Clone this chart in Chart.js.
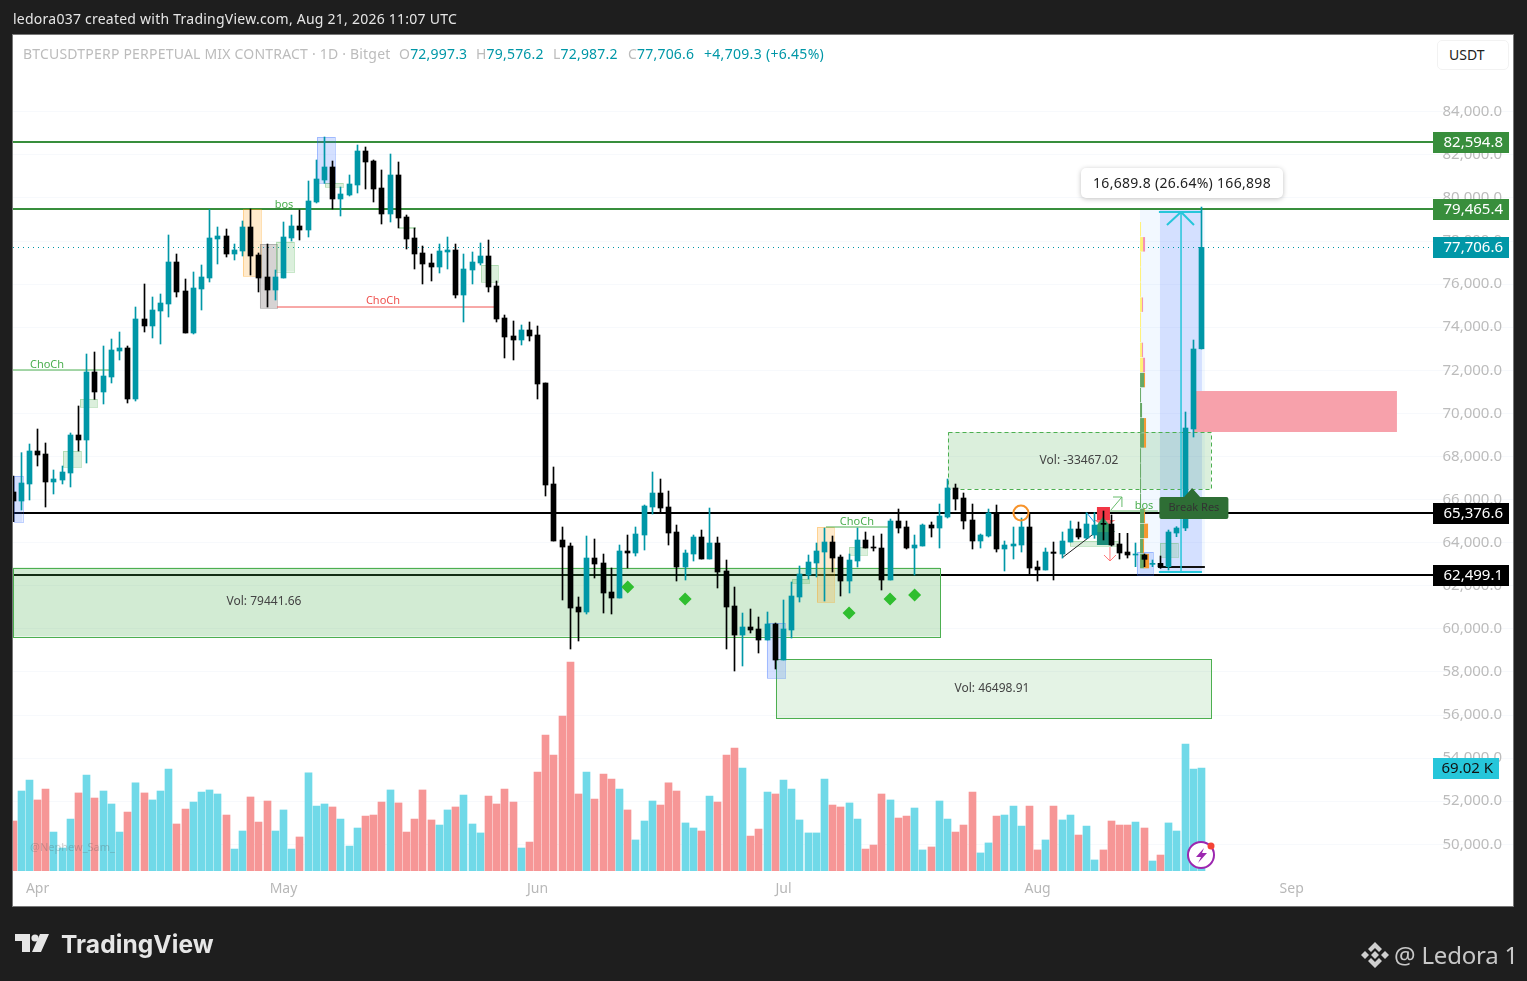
<!DOCTYPE html>
<html>
<head>
  <title>BTCUSDT daily chart</title>
  <script src="https://cdnjs.cloudflare.com/ajax/libs/Chart.js/4.4.1/chart.umd.min.js"></script>
  <style>
    html, body { margin: 0; padding: 0; background: #1e1e1e; width: 1527px; height: 981px; overflow: hidden; }
    body { position: relative; font-family: "Noto Sans", sans-serif; }
    #panel { position: absolute; left: 12px; top: 34px; width: 1500px; height: 871px; background: #fff; border: 1px solid #777; }
    #wrap { position: absolute; left: 0; top: 0; width: 1527px; height: 981px; }
    .t { position: absolute; white-space: nowrap; line-height: 18px; }
    .grey { color: #bcbcbc; }
    .teal { color: #0097a7; }
    #measure { position: absolute; left: 1081px; top: 168px; width: 202px; height: 30px; line-height: 30px; text-align: center; background: #fff;
      border-radius: 5px; box-shadow: 0 1px 5px rgba(0,0,0,.25); color: #222; font-size: 14px; letter-spacing: .3px; }
    #unit { position: absolute; left: 1437px; top: 40px; width: 72px; height: 30px; line-height: 28px; padding-left: 11px; background: #fff;
      border: 1px solid #f2f2f2; border-radius: 5px; box-sizing: border-box; color: #222; font-size: 14px; }
  </style>
</head>
<body>
  <div id="panel"></div>
  <div id="wrap"><canvas id="chart" width="1527" height="981"></canvas></div>

  <div class="t" style="left:13px;top:10px;color:#e6e6e6;font-size:14px;letter-spacing:.24px">ledora037 created with TradingView.com, Aug 21, 2026 11:07 UTC</div>
  <div class="t grey" style="left:23px;top:45px;font-size:14px;letter-spacing:.2px">BTCUSDTPERP PERPETUAL MIX CONTRACT · 1D · Bitget</div>
  <div class="t grey" style="left:399px;top:45px;font-size:14px;letter-spacing:.2px">O<span class="teal">72,997.3</span></div>
  <div class="t grey" style="left:476px;top:45px;font-size:14px;letter-spacing:.2px">H<span class="teal">79,576.2</span></div>
  <div class="t grey" style="left:553px;top:45px;font-size:14px;letter-spacing:.2px">L<span class="teal">72,987.2</span></div>
  <div class="t grey" style="left:628px;top:45px;font-size:14px;letter-spacing:.2px">C<span class="teal">77,706.6</span></div>
  <div class="t teal" style="left:704px;top:45px;font-size:14px;letter-spacing:.3px">+4,709.3 (+6.45%)</div>
  <div id="unit">USDT</div>
  <div id="measure">16,689.8 (26.64%) 166,898</div>
  <div class="t" style="left:30px;top:838px;font-size:11px;color:rgba(90,90,90,.3)">@Nephew_Sam_</div>

  <svg style="position:absolute;left:1186px;top:839px" width="32" height="32" viewBox="0 0 32 32">
    <circle cx="15" cy="16" r="13" fill="#fff" stroke="#9c27b0" stroke-width="2"/>
    <path d="M18 9 L10 18 H15 L12 24 L21 14 H16 Z" fill="#9c27b0"/>
    <circle cx="25" cy="7" r="3.5" fill="#f44336"/>
  </svg>

  <svg style="position:absolute;left:15px;top:933px" width="38" height="20" viewBox="0 0 38 20">
    <path d="M0 1 H15 V19 H7 V8 H0 Z M25 1 H34 L26 19 H17 Z" fill="#e6e6e6"/>
    <circle cx="20" cy="5" r="3.6" fill="#e6e6e6"/>
  </svg>
  <div class="t" style="left:61px;top:926px;font-family:Inter,sans-serif;font-weight:700;font-size:24.5px;line-height:36px;color:#e6e6e6;letter-spacing:.1px">TradingView</div>

  <svg style="position:absolute;left:1361px;top:941px" width="28" height="28" viewBox="0 0 28 28">
    <g fill="#cfcfcf">
      <polygon points="14,1 21,8 18,11 14,7 10,11 7,8"/>
      <polygon points="14,27 21,20 18,17 14,21 10,17 7,20"/>
      <polygon points="4,10 8,14 4,18 0,14"/>
      <polygon points="24,10 28,14 24,18 20,14"/>
      <polygon points="14,10 18,14 14,18 10,14"/>
    </g>
  </svg>
  <div class="t" style="left:1394px;top:937px;font-size:24px;line-height:36px;color:#c8c8c8;letter-spacing:-.2px">@ Ledora 1</div>

  <script>
    // 数据 - prices, one entry per day from Mar 29
    var highs = [
      67094,68177,68579,69275,68626,67373,67558,69090,70343,72756,
      72849,73127,73452,73777,73127,74937,76005,75402,75541,78279,
      77397,76237,76562,76887,79470,78650,78557,77861,78929,79486,
      77444,77861,76655,78882,79207,79439,80785,81760,82827,81713,
      80507,81064,82456,82363,81760,81296,82038,81667,79207,78604,
      77768,77397,77861,78186,77861,77397,77490,77908,78047,76144,
      74566,74288,74102,74241,74056,71410,67512,64727,63984,61478,
      64309,64170,63473,62824,63891,64355,64727,65748,67279,66954,
      66397,64819,63659,64355,64587,65608,64262,63195,61942,60735,
      60921,60550,60782,60271,61339,62174,62917,63427,63984,64680,
      64309,63427,63474,64680,64495,64309,64402,65098,65562,65005,
      64355,64866,64959,65794,66954,66722,66305,65794,64402,65562,
      65748,64077,64727,65144,65376,63149,63752,64030,64495,65005,
      64959,65392,65392,65469,65284,64433,64433,63984,63474,63195,
      63381,64587,64742,70064,73405,79576.2
    ];
    var lows = [
      64975,65516,65980,67558,65655,66259,66723,66584,68254,67697,
      70652,70436,71410,72478,70482,70575,73777,73499,73220,74473,
      75402,73731,73684,74798,76098,76933,77258,77119,77304,76423,
      75634,74937,75262,76283,78000,78047,78186,79764,80677,79486,
      79161,80089,80228,80414,79810,78789,78882,78604,77629,76701,
      76005,76144,76515,76701,75355,74241,76005,76887,75634,74241,
      72571,72478,73174,73359,70668,66166,64077,61339,59065,59436,
      60689,62360,60735,60689,61431,62824,63381,63659,65330,65376,
      63891,62220,62267,63149,63241,63241,61896,59065,58043,58276,
      59807,58879,59482,58136,58554,59575,61246,62314,62406,61292,
      62638,61524,61664,62870,63752,63613,61803,62267,64448,63706,
      62499,63845,64263,63752,65144,65516,64634,63706,63752,64263,
      63566,62685,63242,63566,62499,62220,62731,62267,63288,64030,
      64170,64170,64200,64124,63845,63242,63288,62886,62886,62886,
      62808,62731,64278,64556,68903,72987.2
    ];
    var opens = [
      66352,65934,66723,68254,68115,66816,66908,67233,68997,68765,
      71921,70993,71689,72895,73035,70668,74381,74056,74752,75077,
      77026,75680,73731,75773,76283,78093,78233,77397,77536,78650,
      77351,76330,75726,76283,78140,78697,78511,79810,80831,81435,
      79950,80135,80599,82177,81713,80460,79254,81064,79114,78140,
      77444,76979,76794,77490,77583,75494,76655,76979,77304,75912,
      74427,73592,73406,73870,73638,71410,66723,64123,63845,61014,
      60782,63288,63056,61710,61431,63613,63520,64355,65655,66304,
      65655,64494,62870,63473,64262,63241,63984,62684,61060,59714,
      60086,59993,59482,60225,58554,59946,61478,62499,63056,63566,
      64030,63334,62220,63149,64123,63798,63752,62267,65005,64727,
      63752,63845,64819,64680,65191,66537,66073,65051,64077,64309,
      65376,63706,63845,63891,64727,62870,62731,63566,63474,64030,
      64634,64216,64355,64897,64866,63938,63566,63427,63427,62994,
      63040,62886,64448,64680,69275,72997.3
    ];
    var closes = [
      65934,66769,68254,68069,66816,66955,67280,68997,68765,71921,
      70993,71735,72942,73035,70668,74381,74056,74798,75123,77026,
      75634,73731,75819,76330,78140,78233,77397,77583,78650,77304,
      76283,75726,76330,78186,78697,78511,79857,80878,81435,79950,
      80182,80646,82177,81667,80414,79254,81064,79068,78093,77397,
      76933,76794,77536,77583,75494,76701,77026,77304,75866,74381,
      73545,73406,73870,73592,71364,66676,64077,63798,60967,60782,
      63288,63009,61663,61431,63613,63520,64402,65701,66304,65608,
      64448,62870,63520,64262,63241,63984,62638,61014,59714,60086,
      59946,59482,60225,58554,59993,61524,62545,63102,63613,64030,
      63288,62220,63195,64123,63752,63752,62267,65005,64680,63752,
      63891,64819,64680,65237,66537,66026,65005,64077,64355,65376,
      63706,63891,63938,64727,62824,62731,63566,63504,64077,64634,
      64263,64866,64819,64850,63891,63520,63427,63474,63226,63040,
      62886,64495,64680,69321,72988,77706.6
    ];
    // volume in thousands
    var volumes = [
      33.5,53.6,61.0,47.6,54.9,26.1,15.4,34.8,52.3,64.3,
      48.9,53.6,44.9,26.1,39.5,59.0,52.3,47.6,53.6,68.3,
      31.5,41.5,46.2,52.9,54.3,51.6,37.5,14.7,26.8,49.6,
      32.8,46.9,26.8,40.9,14.7,22.8,65.7,43.5,44.9,42.9,
      34.8,16.7,28.8,36.8,37.5,46.2,54.3,45.6,26.1,34.8,
      54.3,34.2,30.8,40.9,42.9,50.9,31.5,25.5,50.2,44.9,
      54.9,46.2,15.4,19.4,66.3,91.1,77.7,103.8,140.0,51.6,
      66.3,48.2,65.0,61.6,54.9,40.9,20.8,33.5,46.9,44.2,
      59.0,53.6,32.2,28.8,26.8,50.2,46.2,77.7,82.4,69.0,
      23.4,28.1,52.9,51.6,61.0,54.9,34.2,25.5,25.5,61.6,
      44.2,42.9,45.6,34.8,14.7,17.4,51.6,47.6,35.5,36.8,
      42.2,14.1,16.1,46.9,34.8,26.1,30.8,52.9,12.1,18.8,
      36.8,37.5,43.5,30.1,43.5,14.1,20.8,43.5,34.2,37.5,
      24.1,30.1,7.4,14.1,33.5,30.8,30.8,32.8,28.8,6.7,
      10.7,32.2,26.8,85.1,68.3,69.02
    ];
    var priceTicks = [84000,82000,80000,78000,76000,74000,72000,70000,68000,66000,64000,62000,60000,58000,56000,54000,52000,50000];
    var diamondDays = [75, 82, 102, 107, 110];
    var diamondPrices = [61943, 61386, 60736, 61386, 61571];
    var levelPrices = [82594.8, 79465.4, 65376.6, 62499.1];
    var profileBuy = [1,3,1,1,1,2,1,1,2,3,4,1,2,4,4,1,1,1,1,4,4,3,4];
    var profileSell = [0,2,0,0,0,1,0,0,1,2,1,0,0,2,2,0,0,0,0,1,4,1,5];

    // 横轴 - days from Mar 29 2026
    var monthNames = ['Jan','Feb','Mar','Apr','May','Jun','Jul','Aug','Sep'];
    var dayLabels = [];
    for (var d = 0; d < 184; d++) {
      dayLabels.push(new Date(Date.UTC(2026, 2, 29 + d)).toISOString().slice(0, 10));
    }

    // drawn objects, all in day index / price
    var BLUE = { fill: 'rgba(41,98,255,.2)', line: 'rgba(41,98,255,.3)' };
    var GREEN = { fill: 'rgba(76,175,80,.2)', line: 'rgba(76,175,80,.3)' };
    var ORANGE = { fill: 'rgba(255,152,0,.2)', line: 'rgba(255,152,0,.3)' };
    var GREY = { fill: 'rgba(90,80,80,.25)', line: 'rgba(120,120,120,.4)' };
    var smallBoxes = [
      [0.12, 1.16, 67094, 64959, BLUE],
      [6.1, 8.3, 68254, 67511, GREEN],
      [8.17, 10.25, 70667, 70296, GREEN],
      [28.06, 30.25, 79485, 76376, ORANGE],
      [30.13, 32.2, 77861, 74891, GREY],
      [32.1, 34.3, 77970, 76578, GREEN],
      [37.09, 39.28, 82827, 80692, BLUE],
      [38.06, 40.26, 80692, 80506, GREEN],
      [57.1, 59.17, 76886, 76098, GREEN],
      [91.98, 94.18, 60271, 57719, BLUE],
      [95.03, 97.11, 62314, 62128, GREEN],
      [98.09, 100.16, 64727, 61246, ORANGE],
      [101.99, 104.18, 63799, 63427, GREEN],
      [128.95, 134.8, 64077, 63845, GREEN],
      [137.12, 139.07, 63567, 62499, BLUE],
      [139.93, 142.1, 63985, 63335, GREEN]
    ];
    var thinLines = [
      [0, 72013, 11.83, 72013, '#4caf50', 1],
      [32.2, 74937, 58.8, 74937, '#f05350', 1],
      [47.09, 78604, 49.16, 78604, '#81c784', 1],
      [99.18, 64727, 106.75, 64727, '#4caf50', 1],
      [133.83, 65469, 139.68, 65469, '#66bb6a', 1],
      [127.97, 63288, 132.12, 64495, '#222', 1],
      [131.02, 65377, 132, 64913, '#2196f3', 1],
      [133.95, 65516, 135.29, 66119, '#66bb6a', 1],
      [134.2, 66119, 135.29, 66119, '#66bb6a', 1],
      [135.29, 66119, 135.29, 65655, '#66bb6a', 1],
      [133.83, 63799, 133.83, 63149, '#f77', 1],
      [133.1, 63427, 133.83, 63149, '#f77', 1],
      [134.56, 63427, 133.83, 63149, '#f77', 1],
      [139.68, 62871, 145.41, 62871, '#111', 2],
      [139.8, 79346, 145.05, 79346, '#26c6da', 2],
      [139.8, 62638, 145.05, 62638, '#26c6da', 2],
      [142.5, 79346, 142.5, 62638, '#26c6da', 1.5],
      [140.78, 78743, 142.5, 79346, '#26c6da', 2],
      [144.08, 78743, 142.5, 79346, '#26c6da', 2]
    ];
    var chartTexts = [
      ['Vol: 79441.66', 30.62, 61293, '#444', 12],
      ['Vol: 46498.91', 119.43, 57255, '#444', 12],
      ['Vol: -33467.02', 130.05, 67836, '#444', 12],
      ['ChoCh', 4.15, 72292, '#4caf50', 11],
      ['ChoCh', 45.14, 75262, '#f05350', 11],
      ['ChoCh', 102.96, 65005, '#4caf50', 11],
      ['bos', 33.06, 79717, '#4caf50', 11],
      ['bos', 137.98, 65748, '#4caf50', 11]
    ];

    function rect(ctx, x, y, d1, d2, p1, p2, fill, line, dash) {
      var l = x.getPixelForValue(d1), r = x.getPixelForValue(d2);
      var t = y.getPixelForValue(p1), b = y.getPixelForValue(p2);
      ctx.fillStyle = fill;
      ctx.fillRect(l, t, r - l, b - t);
      if (line) {
        ctx.strokeStyle = line;
        ctx.lineWidth = 1;
        ctx.setLineDash(dash || []);
        ctx.strokeRect(Math.round(l) + .5, Math.round(t) + .5, Math.round(r - l), Math.round(b - t));
        ctx.setLineDash([]);
      }
    }

    function tri(ctx, x, y, pts, fill) {
      ctx.fillStyle = fill;
      ctx.beginPath();
      pts.forEach(function(p, i) {
        ctx[i ? 'lineTo' : 'moveTo'](x.getPixelForValue(p[0]), y.getPixelForValue(p[1]));
      });
      ctx.closePath();
      ctx.fill();
    }

    function priceTag(ctx, right, yPos, width, bg, color, text) {
      ctx.fillStyle = bg;
      ctx.fillRect(right - 76, Math.round(yPos) - 10, width, 21);
      ctx.fillStyle = color;
      ctx.font = '15px "Noto Sans"';
      ctx.textAlign = 'right';
      ctx.textBaseline = 'middle';
      ctx.fillText(text, right - 76 + width - 6, Math.round(yPos) + 1);
    }

    // 绘制标注
    var overlay = {
      id: 'overlay',
      // keep bars on whole pixels so wicks stay sharp
      afterDatasetsUpdate: function(chart) {
        [0, 1, 2].forEach(function(i) {
          chart.getDatasetMeta(i).data.forEach(function(el) { el.x = Math.floor(el.x) + .5; });
        });
      },
      beforeDatasetsDraw: function(chart) {
        var ctx = chart.ctx, x = chart.scales.x, y = chart.scales.y, area = chart.chartArea;
        var tagLeft = area.right - 80;
        ctx.save();
        // blue range behind everything
        rect(ctx, x, y, 137.5, 139.93, 79439, 62592, 'rgba(41,128,255,.06)');
        rect(ctx, x, y, 139.93, 145.05, 79439, 62592, 'rgba(41,98,255,.2)');
        rect(ctx, x, y, 145.05, 145.41, 79439, 62592, 'rgba(41,128,255,.06)');

        // horizontal levels
        levelPrices.forEach(function(p, i) {
          ctx.strokeStyle = i < 2 ? '#388e3c' : '#000';
          ctx.lineWidth = 2;
          ctx.beginPath();
          ctx.moveTo(area.left, Math.round(y.getPixelForValue(p)));
          ctx.lineTo(tagLeft, Math.round(y.getPixelForValue(p)));
          ctx.stroke();
        });
        ctx.strokeStyle = '#0097a7';
        ctx.lineWidth = 1;
        ctx.setLineDash([1, 4]);
        ctx.beginPath();
        ctx.moveTo(area.left, Math.round(y.getPixelForValue(closes[145])) + .5);
        ctx.lineTo(tagLeft, Math.round(y.getPixelForValue(closes[145])) + .5);
        ctx.stroke();
        ctx.setLineDash([]);

        // zones
        rect(ctx, x, y, 0, 113.1, 62847, 59645, 'rgba(76,175,80,.25)', '#4caf50');
        rect(ctx, x, y, 93.08, 146.15, 58601, 55863, 'rgba(76,175,80,.15)', '#4caf50');
        rect(ctx, x, y, 114.06, 146.15, 69136, 66491, 'rgba(76,175,80,.2)', '#4caf50', [4, 3]);
        rect(ctx, x, y, 143.96, 168.84, 71038, 69136, '#f7a1ab');
        smallBoxes.forEach(function(b) {
          rect(ctx, x, y, b[0], b[1], b[2], b[3], b[4].fill, b[4].line);
        });

        // shape cluster near the breakout
        rect(ctx, x, y, 132.24, 133.83, 65655, 65052, '#f23645');
        tri(ctx, x, y, [[131.9, 65052], [134.5, 65052], [133.2, 64720]], '#f77');
        rect(ctx, x, y, 132.24, 133.83, 64820, 63892, '#1a8a78');
        tri(ctx, x, y, [[132.97, 65191], [131.63, 64495], [134.44, 64495]], '#2e9e6a');

        // volume profile strip
        var binTop = 78882, binStep = 700;
        var stripLeft = x.getPixelForValue(137.5);
        profileBuy.forEach(function(w, k) {
          var t = y.getPixelForValue(binTop - k * binStep);
          var h = y.getPixelForValue(binTop - (k + 1) * binStep) - t - 0.6;
          ctx.fillStyle = k < 10 ? '#fff176' : '#66a866';
          ctx.fillRect(stripLeft, t, w, h);
          ctx.fillStyle = k < 10 ? '#f48fb1' : '#f5982f';
          ctx.fillRect(stripLeft + w, t, profileSell[k], h);
        });

        thinLines.forEach(function(l) {
          ctx.strokeStyle = l[4];
          ctx.lineWidth = l[5];
          ctx.beginPath();
          ctx.moveTo(x.getPixelForValue(l[0]), y.getPixelForValue(l[1]));
          ctx.lineTo(x.getPixelForValue(l[2]), y.getPixelForValue(l[3]));
          ctx.stroke();
        });

        ctx.textAlign = 'center';
        ctx.textBaseline = 'middle';
        chartTexts.forEach(function(t) {
          ctx.font = t[4] + 'px "Noto Sans"';
          ctx.fillStyle = t[3];
          ctx.fillText(t[0], x.getPixelForValue(t[1]), y.getPixelForValue(t[2]) + 1);
        });
        ctx.restore();
      },
      afterDatasetsDraw: function(chart) {
        var ctx = chart.ctx, x = chart.scales.x, y = chart.scales.y, area = chart.chartArea;
        var right = area.right - 4;
        ctx.save();

        // orange circle
        ctx.strokeStyle = '#f7932a';
        ctx.lineWidth = 2;
        ctx.beginPath();
        ctx.arc(x.getPixelForValue(122.97), y.getPixelForValue(65377), 7.5, 0, Math.PI * 2);
        ctx.stroke();

        // Break Res callout
        var cx = x.getPixelForValue(143.85);
        var l = x.getPixelForValue(139.86), r = x.getPixelForValue(148.28);
        var t = y.getPixelForValue(66119), b = y.getPixelForValue(65098);
        ctx.fillStyle = '#2e6e35';
        ctx.beginPath();
        ctx.roundRect(l, t, r - l, b - t, 2);
        ctx.moveTo(cx - 8, t);
        ctx.lineTo(cx, t - 9);
        ctx.lineTo(cx + 8, t);
        ctx.fill();
        ctx.fillStyle = '#333';
        ctx.font = '11px "Noto Sans"';
        ctx.textAlign = 'center';
        ctx.textBaseline = 'middle';
        ctx.fillText('Break Res', (l + r) / 2, (t + b) / 2);

        // price tags on the right
        levelPrices.forEach(function(p, i) {
          priceTag(ctx, right, y.getPixelForValue(p), 76, i < 2 ? '#388e3c' : '#000', '#fff', p.toLocaleString('en-US', { minimumFractionDigits: 1 }));
        });
        priceTag(ctx, right, y.getPixelForValue(closes[145]), 76, '#0097a7', '#fff', closes[145].toLocaleString('en-US', { minimumFractionDigits: 1 }));
        priceTag(ctx, right, chart.scales.y1.getPixelForValue(volumes[145]), 66, '#26c6da', '#111', volumes[145] + ' K');
        ctx.restore();
      }
    };

    var candleColors = closes.map(function(c, i) { return c >= opens[i] ? '#0097a7' : '#000'; });
    var volumeColors = closes.map(function(c, i) { return c >= opens[i] ? '#70d9e8' : '#f69696'; });

    // 创建图表
    var ctx = document.getElementById('chart').getContext('2d');
    var myChart = new Chart(ctx, {
      type: 'bar',
      plugins: [overlay],
      data: {
        labels: dayLabels,
        datasets: [
          {
            label: 'Volume',
            yAxisID: 'y1',
            data: volumes,
            backgroundColor: volumeColors,
            barThickness: 7,
            grouped: false,
            order: 4
          },
          {
            label: 'Wick',
            data: highs.map(function(h, i) { return [lows[i], h]; }),
            backgroundColor: candleColors,
            barThickness: 1,
            grouped: false,
            order: 3
          },
          {
            label: 'Body',
            data: opens.map(function(o, i) { return [o, closes[i]]; }),
            backgroundColor: candleColors,
            barThickness: 5,
            minBarLength: 1,
            grouped: false,
            order: 2
          },
          {
            type: 'line',
            label: 'Signal',
            data: diamondDays.map(function(day, i) { return { x: dayLabels[day], y: diamondPrices[i] }; }),
            showLine: false,
            pointStyle: 'rectRot',
            pointRadius: 6.5,
            pointBackgroundColor: '#2fbe2f',
            pointBorderWidth: 0,
            order: 1
          }
        ]
      },
      options: {
        responsive: false,
        animation: false,
        events: [],
        layout: { padding: { left: 13, right: 14, top: 35, bottom: 75 } },
        plugins: { legend: { display: false }, tooltip: { enabled: false } },
        scales: {
          x: {
            offset: false,
            afterFit: function(scale) { scale.height = 35; scale.paddingRight = 0; scale.paddingLeft = 0; },
            grid: { display: false },
            border: { display: false },
            ticks: {
              autoSkip: false,
              maxRotation: 0,
              padding: 2,
              color: '#b8b8b8',
              font: { family: '"Noto Sans"', size: 14 },
              callback: function(value) {
                var label = dayLabels[value];
                return label.slice(8) === '01' ? monthNames[+label.slice(5, 7) - 1] : '';
              }
            }
          },
          y: {
            position: 'right',
            min: 48762,
            max: 87561,
            afterFit: function(scale) { scale.width = 0; },
            afterBuildTicks: function(axis) {
              axis.ticks = priceTicks.map(function(v) { return { value: v }; });
            },
            grid: { color: 'rgba(240,243,250,.5)', drawTicks: false },
            border: { display: false },
            ticks: {
              mirror: true,
              padding: -11,
              color: '#bcbcbc',
              font: { family: '"Noto Sans"', size: 15 },
              callback: function(v) { return v.toLocaleString('en-US', { minimumFractionDigits: 1 }); }
            }
          },
          y1: {
            display: false,
            min: 0,
            max: 560.2
          }
        }
      }
    });
  </script>
</body>
</html>
